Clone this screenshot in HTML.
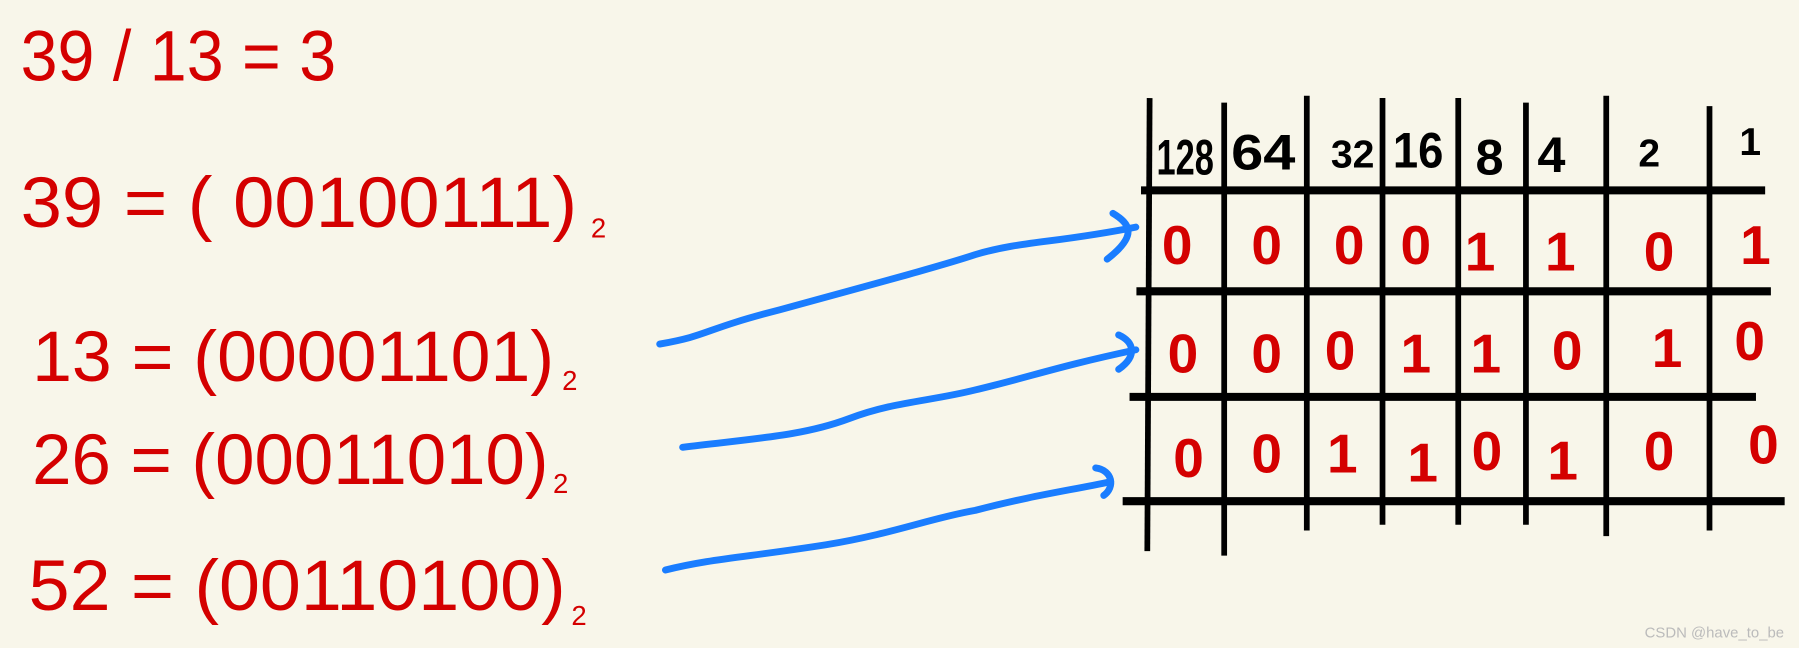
<!DOCTYPE html>
<html><head><meta charset="utf-8"><style>
html,body{margin:0;padding:0;background:#f8f6ea;}
svg{display:block}
.r{fill:#d40000;font-family:"Liberation Sans",sans-serif;font-size:62px;}
.k{fill:#000;font-family:"Liberation Sans",sans-serif;font-size:44px;font-weight:bold;}
.d{fill:#d40000;font-family:"Liberation Sans",sans-serif;font-size:48px;text-anchor:middle;font-weight:bold;}
</style></head><body>
<svg width="1799" height="648" viewBox="0 0 1568 565" preserveAspectRatio="none">
<rect width="1568" height="565" fill="#f8f6ea"/>
<text class="r" x="18" y="70" textLength="275" lengthAdjust="spacingAndGlyphs">39 / 13 = 3</text>
<text class="r" x="18" y="198" textLength="485" lengthAdjust="spacingAndGlyphs">39 = ( 00100111)</text>
<text class="r" x="515" y="207" style="font-size:24px">2</text>
<text class="r" x="28" y="332" textLength="455" lengthAdjust="spacingAndGlyphs">13 = (00001101)</text>
<text class="r" x="490" y="340" style="font-size:24px">2</text>
<text class="r" x="28" y="422" textLength="450" lengthAdjust="spacingAndGlyphs">26 = (00011010)</text>
<text class="r" x="482" y="430" style="font-size:24px">2</text>
<text class="r" x="25" y="532" textLength="468" lengthAdjust="spacingAndGlyphs">52 = (00110100)</text>
<text class="r" x="498" y="545" style="font-size:24px">2</text>
<g stroke="#000" stroke-width="5" stroke-linecap="square">
<line x1="1002" y1="88" x2="1000" y2="478"/>
<line x1="1067" y1="92" x2="1067" y2="482"/>
<line x1="1139" y1="86" x2="1139" y2="460"/>
<line x1="1205" y1="88" x2="1205" y2="455"/>
<line x1="1271" y1="88" x2="1271" y2="455"/>
<line x1="1330" y1="92" x2="1330" y2="455"/>
<line x1="1400" y1="86" x2="1400" y2="465"/>
<line x1="1490" y1="95" x2="1490" y2="460"/>
<line x1="998" y1="166" x2="1535" y2="166" stroke-width="7"/>
<line x1="994" y1="254" x2="1540" y2="254" stroke-width="7"/>
<line x1="988" y1="346" x2="1527" y2="346" stroke-width="7"/>
<line x1="982" y1="437" x2="1552" y2="437" stroke-width="7"/>
</g>
<g class="k">
<text x="1008" y="152" textLength="50" lengthAdjust="spacingAndGlyphs">128</text>
<text x="1073" y="148" textLength="56" lengthAdjust="spacingAndGlyphs">64</text>
<text x="1160" y="146" style="font-size:34px" textLength="38" lengthAdjust="spacingAndGlyphs">32</text>
<text x="1214" y="146" textLength="44" lengthAdjust="spacingAndGlyphs">16</text>
<text x="1286" y="152">8</text>
<text x="1340" y="150">4</text>
<text x="1428" y="145" style="font-size:34px">2</text>
<text x="1516" y="135" style="font-size:34px">1</text>
</g>
<g class="d">
<text x="1026" y="230">0</text><text x="1104" y="230">0</text><text x="1176" y="230">0</text><text x="1234" y="230">0</text><text x="1290" y="236">1</text><text x="1360" y="236">1</text><text x="1446" y="236">0</text><text x="1530" y="230">1</text>
<text x="1031" y="325">0</text><text x="1104" y="325">0</text><text x="1168" y="322">0</text><text x="1234" y="325">1</text><text x="1295" y="325">1</text><text x="1366" y="322">0</text><text x="1453" y="320">1</text><text x="1525" y="314">0</text>
<text x="1036" y="416">0</text><text x="1104" y="412">0</text><text x="1170" y="412">1</text><text x="1240" y="420">1</text><text x="1296" y="410">0</text><text x="1362" y="418">1</text><text x="1446" y="410">0</text><text x="1537" y="404">0</text>
</g>
<g fill="none" stroke="#1a7dff" stroke-width="6" stroke-linecap="round">
<path d="M575 300 C620 292 610 288 680 270 C760 248 820 232 850 222 C890 210 920 212 990 198"/>
<path d="M970 186 C985 195 992 205 965 226"/>
<path d="M595 390 C660 382 700 380 740 365 C780 350 810 350 850 340 C900 328 920 320 990 305"/>
<path d="M975 292 C988 298 992 310 975 322"/>
<path d="M580 497 C620 487 650 486 720 475 C780 465 810 452 850 445 C900 432 930 428 968 420"/>
<path d="M955 408 C970 410 972 425 962 432"/>
</g>
<text x="1555" y="556" text-anchor="end" fill="#bbb" font-family="Liberation Sans,sans-serif" font-size="13">CSDN @have_to_be</text>
</svg>
</body></html>
